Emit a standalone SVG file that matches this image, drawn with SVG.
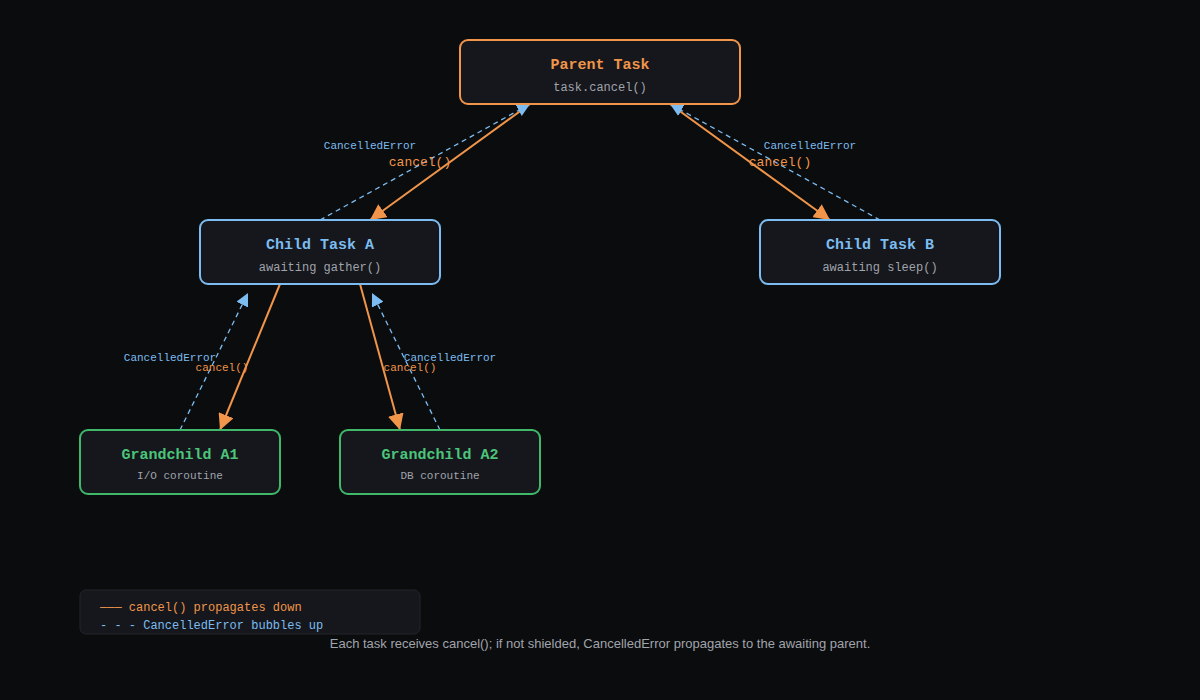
<svg xmlns="http://www.w3.org/2000/svg" width="1200" height="700" viewBox="0 0 1200 700">
<style>
.t{font-family:"Liberation Mono",monospace;text-anchor:middle}
.title{font-size:15px;font-weight:bold}
.sub{font-size:12px;fill:#a0a4ab}
.sub2{font-size:11px;fill:#a0a4ab}
.box{fill:#15171c;stroke-width:2}
.down{stroke:#f0954a;stroke-width:2;fill:none}
.up{stroke:#7cbcf0;stroke-width:1.3;stroke-dasharray:5,4;fill:none}
.lu{font-family:"Liberation Mono",monospace;font-size:11px;fill:#7cbcf0;text-anchor:middle}
.ld{font-family:"Liberation Mono",monospace;fill:#f0954a;text-anchor:middle}
</style>
<defs>
<marker id="ao" viewBox="0 0 10 10" refX="10" refY="5" markerWidth="10" markerHeight="10" markerUnits="userSpaceOnUse" orient="auto"><path d="M0,0L10,5L0,10z" fill="#f0954a"/></marker>
<marker id="ab" viewBox="0 0 10 10" refX="10" refY="5" markerWidth="10" markerHeight="10" markerUnits="userSpaceOnUse" orient="auto"><path d="M0,0L10,5L0,10z" fill="#7cbcf0"/></marker>
<marker id="aoL" viewBox="0 0 10 10" refX="10" refY="5" markerWidth="16" markerHeight="16" markerUnits="userSpaceOnUse" orient="auto"><path d="M0,0L10,5L0,10z" fill="#f0954a"/></marker>
<marker id="abL" viewBox="0 0 10 10" refX="10" refY="5" markerWidth="13" markerHeight="13" markerUnits="userSpaceOnUse" orient="auto"><path d="M0,0L10,5L0,10z" fill="#7cbcf0"/></marker>
</defs>
<rect width="1200" height="700" fill="#0b0c0e"/>
<g id="connectors">
<line class="down" x1="530" y1="104" x2="370" y2="220" marker-end="url(#aoL)"/>
<line class="up" x1="320" y1="220" x2="530" y2="104" marker-end="url(#abL)"/>
<line class="down" x1="670" y1="104" x2="830" y2="220" marker-end="url(#aoL)"/>
<line class="up" x1="880" y1="220" x2="670" y2="104" marker-end="url(#abL)"/>
<line class="down" x1="280" y1="284" x2="220" y2="430" marker-end="url(#aoL)"/>
<line class="up" x1="180" y1="430" x2="248" y2="293" marker-end="url(#abL)"/>
<line class="down" x1="360" y1="284" x2="400" y2="430" marker-end="url(#aoL)"/>
<line class="up" x1="440" y1="430" x2="372" y2="293" marker-end="url(#abL)"/>
<text class="lu" x="370" y="149">CancelledError</text>
<text class="ld" x="420" y="166" font-size="13">cancel()</text>
<text class="lu" x="810" y="149">CancelledError</text>
<text class="ld" x="780" y="166" font-size="13">cancel()</text>
<text class="lu" x="170" y="361">CancelledError</text>
<text class="ld" x="222" y="371" font-size="11">cancel()</text>
<text class="lu" x="450" y="361">CancelledError</text>
<text class="ld" x="410" y="371" font-size="11">cancel()</text>
</g>
<g id="parent"><rect class="box" x="460" y="40" width="280" height="64" rx="8" stroke="#f0954a"/><text class="t title" x="600" y="69" fill="#f0954a">Parent Task</text><text class="t sub" x="600" y="91">task.cancel()</text></g>
<g id="childA"><rect class="box" x="200" y="220" width="240" height="64" rx="8" stroke="#7cbcf0"/><text class="t title" x="320" y="249" fill="#7cbcf0">Child Task A</text><text class="t sub" x="320" y="271">awaiting gather()</text></g>
<g id="childB"><rect class="box" x="760" y="220" width="240" height="64" rx="8" stroke="#7cbcf0"/><text class="t title" x="880" y="249" fill="#7cbcf0">Child Task B</text><text class="t sub" x="880" y="271">awaiting sleep()</text></g>
<g id="gA1"><rect class="box" x="80" y="430" width="200" height="64" rx="8" stroke="#3fb86a"/><text class="t title" x="180" y="459" fill="#4cc47a">Grandchild A1</text><text class="t sub2" x="180" y="479">I/O coroutine</text></g>
<g id="gA2"><rect class="box" x="340" y="430" width="200" height="64" rx="8" stroke="#3fb86a"/><text class="t title" x="440" y="459" fill="#4cc47a">Grandchild A2</text><text class="t sub2" x="440" y="479">DB coroutine</text></g>
<g id="legend"><rect x="80" y="590" width="340" height="44" rx="6" fill="#15171c" stroke="#22252b"/>
<text x="100" y="611" font-family="Liberation Mono,monospace" font-size="12" fill="#f0954a">─── cancel() propagates down</text>
<text x="100" y="629" font-family="Liberation Mono,monospace" font-size="12" fill="#7cbcf0">- - - CancelledError bubbles up</text></g>
<text x="600" y="648" font-family="Liberation Sans,Arial,sans-serif" font-size="13" fill="#a0a4ab" text-anchor="middle">Each task receives cancel(); if not shielded, CancelledError propagates to the awaiting parent.</text>
</svg>
